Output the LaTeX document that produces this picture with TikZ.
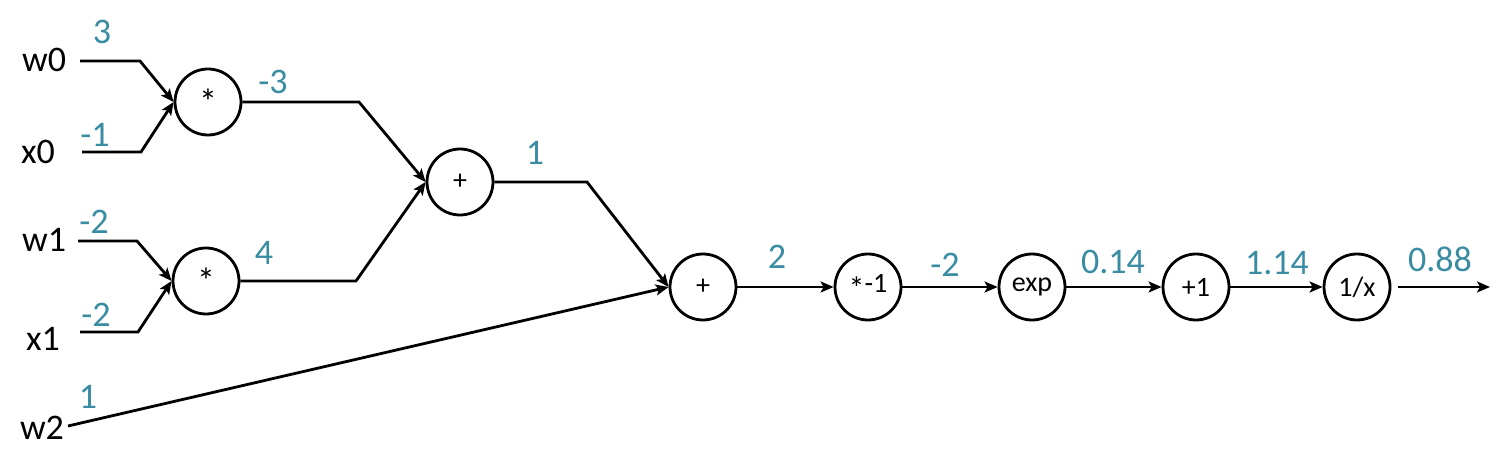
\documentclass[tikz,border=0pt]{standalone}
\usepackage{fontspec}
\setmainfont{Carlito}
\usetikzlibrary{arrows.meta}
\definecolor{teal}{HTML}{3A8CA3}
\newcommand{\bigast}{\fontsize{36}{38}\selectfont\raisebox{-0.28em}{*}}
\begin{document}
\begin{tikzpicture}[x=1pt,y=-1pt,
  op/.style={circle,draw,line width=2.8pt,minimum size=66pt,inner sep=0pt,font=\fontsize{28}{30}\selectfont},
  var/.style={font=\fontsize{36}{38}\selectfont},
  val/.style={font=\fontsize{36}{38}\selectfont,text=teal},
  wire/.style={line width=2.8pt},
  arr/.style={wire,-{Stealth[length=13pt,width=11pt,inset=3pt]}}]
\useasboundingbox (0,0) rectangle (1510,454);
% operation nodes
\node[op] (m1) at (208,102) {\bigast};
\node[op] (m2) at (206,281) {\bigast};
\node[op] (a1) at (460,182) {+};
\node[op] (a2) at (703,287) {+};
\node[op] (ng) at (868,287) {{\fontsize{32}{34}\selectfont\raisebox{-0.2em}{*}}-1};
\node[op] (ex) at (1032,287) {exp};
\node[op] (p1) at (1196,287) {+1};
\node[op] (rc) at (1357,287) {1/x};
% input names
\node[var] (w0) at (44,60) {w0};
\node[var] (x0) at (38,152) {x0};
\node[var] (w1) at (44,240) {w1};
\node[var] (x1) at (43,339) {x1};
\node[var] (w2) at (42,428) {w2};
% wire coordinates
\coordinate (w0s) at (80,61);   \coordinate (w0b) at (140,61);
\coordinate (x0s) at (82,152);  \coordinate (x0b) at (141,152);
\coordinate (w1s) at (78,241);  \coordinate (w1b) at (137,241);
\coordinate (x1s) at (80,332);  \coordinate (x1b) at (138,332);
\coordinate (w2s) at (68,426);
\coordinate (m1b) at (359,102);
\coordinate (m2b) at (356,281);
\coordinate (a1b) at (587,182);
\coordinate (out) at (1490,287);
% wires
\draw[arr] (w0s) -- (w0b) -- (m1.west);
\draw[arr] (x0s) -- (x0b) -- (m1.west);
\draw[arr] (w1s) -- (w1b) -- (m2.west);
\draw[arr] (x1s) -- (x1b) -- (m2.west);
\draw[arr] (m1.east) -- (m1b) -- (a1.west);
\draw[arr] (m2.east) -- (m2b) -- (a1.west);
\draw[arr] (a1.east) -- (a1b) -- (a2.west);
\draw[arr] (w2s) -- (a2.west);
\draw[arr] (a2) -- (ng);
\draw[arr] (ng) -- (ex);
\draw[arr] (ex) -- (p1);
\draw[arr] (p1) -- (rc);
\draw[arr] ([xshift=7pt]rc.east) -- (out);
% values
\node[val] at (102,32) {3};
\node[val] at (95,135) {-1};
\node[val] at (94,222) {-2};
\node[val] at (96,315) {-2};
\node[val] at (88,397) {1};
\node[val] at (273,82) {-3};
\node[val] at (264,253) {4};
\node[val] at (535,153) {1};
\node[val] at (777,257) {2};
\node[val] at (945,265) {-2};
\node[val] at (1113,262) {0.14};
\node[val] at (1277,263) {1.14};
\node[val] at (1440,259) {0.88};
\end{tikzpicture}
\end{document}
